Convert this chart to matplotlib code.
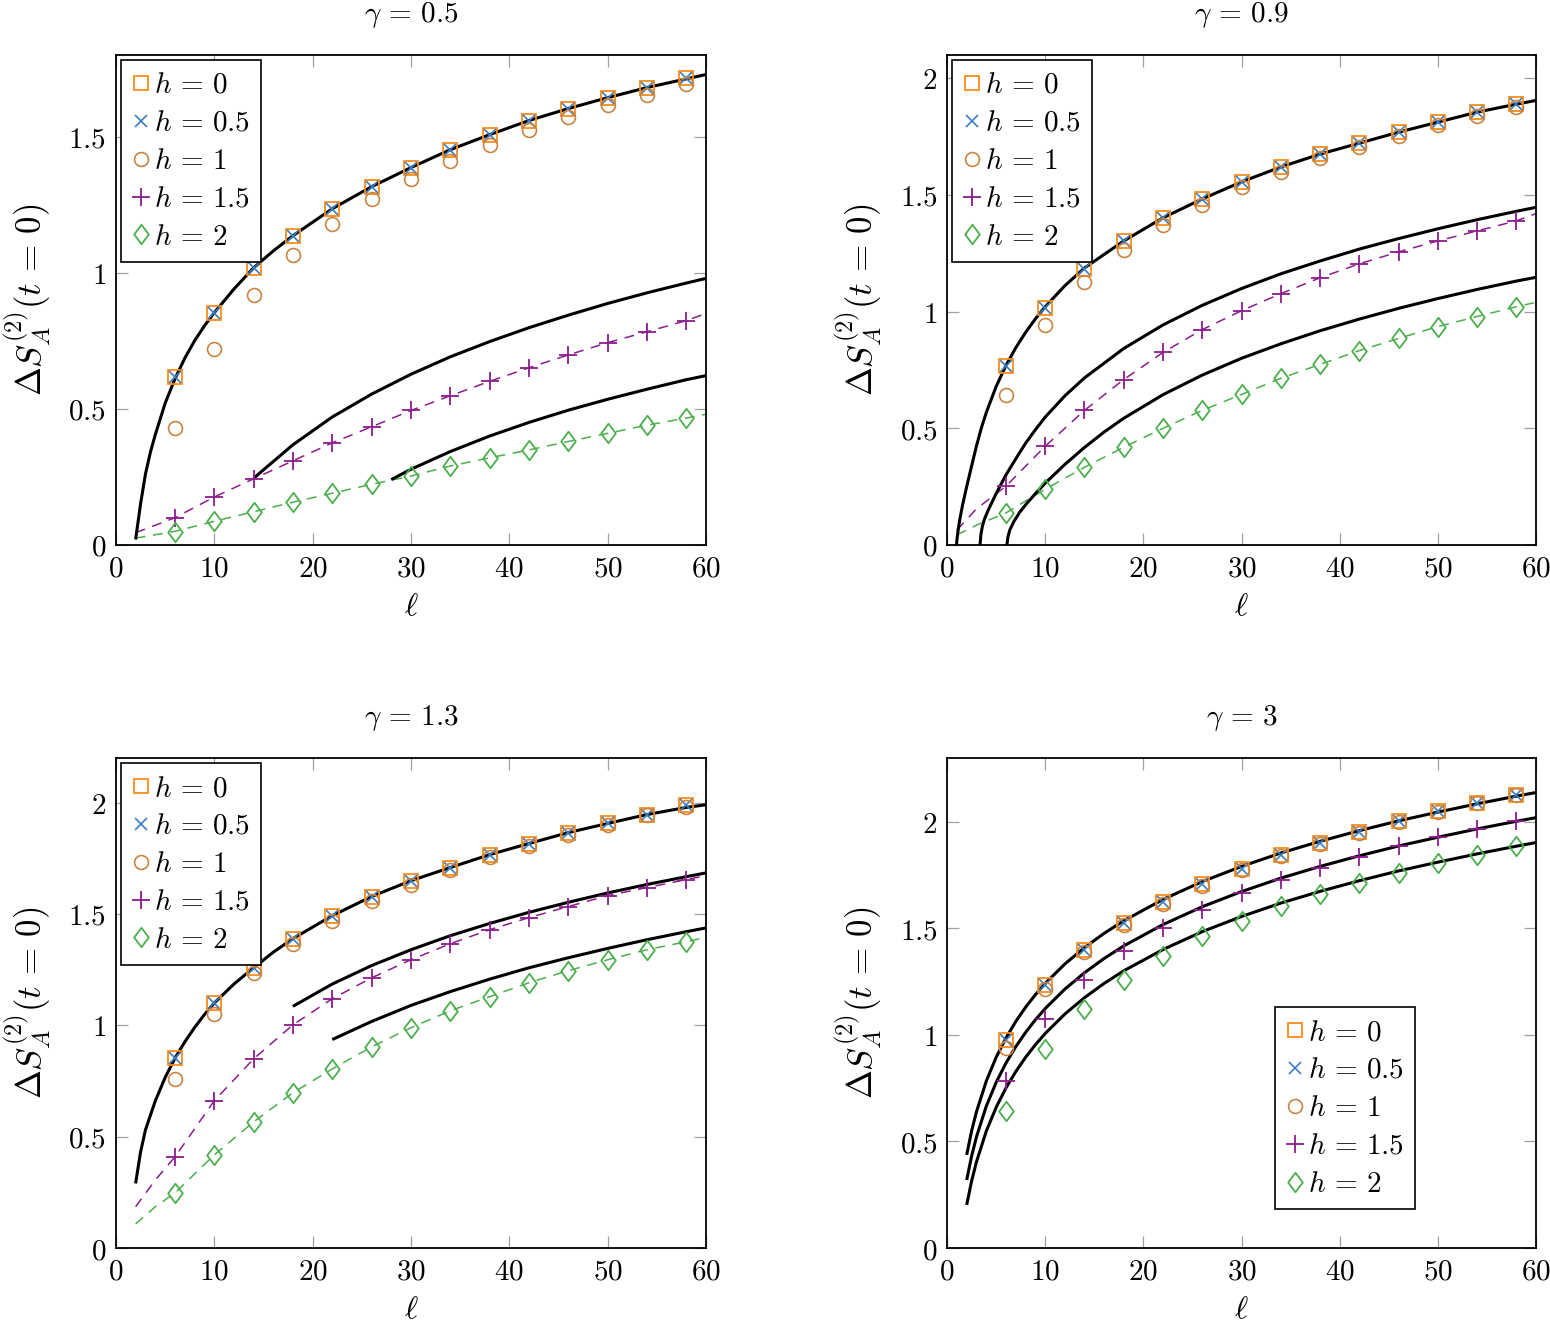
import matplotlib
matplotlib.use("Agg")
import matplotlib.pyplot as plt
from matplotlib.path import Path
from matplotlib.ticker import FuncFormatter, MultipleLocator

# -----------------------------
# Data
# -----------------------------
ell = [6, 10, 14, 18, 22, 26, 30, 34, 38, 42, 46, 50, 54, 58]

# gamma = 0.5
g05_h0 = [0.618, 0.853, 1.018, 1.136, 1.235, 1.316, 1.386, 1.452, 1.507, 1.559, 1.603, 1.643, 1.680, 1.717]
g05_h05 = [0.618, 0.853, 1.018, 1.136, 1.235, 1.316, 1.386, 1.452, 1.507, 1.559, 1.603, 1.643, 1.680, 1.717]
g05_h1 = [0.43, 0.72, 0.92, 1.066, 1.18, 1.27, 1.345, 1.41, 1.47, 1.525, 1.573, 1.617, 1.654, 1.695]
g05_h15 = [0.10, 0.176, 0.243, 0.309, 0.375, 0.434, 0.494, 0.548, 0.601, 0.651, 0.698, 0.743, 0.783, 0.824]
g05_h2 = [0.048, 0.088, 0.122, 0.157, 0.19, 0.223, 0.253, 0.29, 0.32, 0.349, 0.382, 0.412, 0.441, 0.467]
g05_fit_ell = [2, 6, 10, 14, 18, 22, 26, 30, 34, 38, 42, 46, 50, 54, 58, 60]
g05_fit15 = [0.045, 0.10, 0.176, 0.243, 0.309, 0.375, 0.434, 0.494, 0.548, 0.601, 0.651, 0.698, 0.743, 0.783, 0.824, 0.85]
g05_fit2 = [0.025, 0.05, 0.087, 0.122, 0.157, 0.19, 0.223, 0.253, 0.29, 0.32, 0.349, 0.38, 0.41, 0.44, 0.466, 0.48]
g05_cft1_ell = [2, 2.5, 3, 3.5, 4, 5, 6, 7, 8, 9, 10, 12, 14, 16, 18, 22, 26, 30, 34, 38, 42, 46, 50, 54, 58, 60]
g05_cft1 = [0.02, 0.15, 0.26, 0.34, 0.405, 0.52, 0.61, 0.686, 0.75, 0.805, 0.853, 0.94, 1.018, 1.08, 1.136,
            1.235, 1.316, 1.386, 1.452, 1.507, 1.559, 1.603, 1.643, 1.680, 1.712, 1.728]
g05_cft2_ell = [14, 18, 22, 26, 30, 34, 38, 42, 46, 50, 54, 58, 60]
g05_cft2 = [0.245, 0.368, 0.47, 0.554, 0.627, 0.691, 0.747, 0.798, 0.844, 0.887, 0.926, 0.962, 0.979]
g05_cft3_ell = [28, 30, 34, 38, 42, 46, 50, 54, 58, 60]
g05_cft3 = [0.24, 0.278, 0.343, 0.40, 0.45, 0.495, 0.535, 0.572, 0.607, 0.622]

# gamma = 0.9
g09_h0 = [0.769, 1.017, 1.184, 1.303, 1.402, 1.483, 1.556, 1.62, 1.675, 1.722, 1.769, 1.812, 1.855, 1.889]
g09_h05 = [0.769, 1.017, 1.184, 1.303, 1.402, 1.483, 1.556, 1.62, 1.675, 1.722, 1.769, 1.812, 1.855, 1.889]
g09_h1 = [0.641, 0.944, 1.128, 1.265, 1.372, 1.457, 1.534, 1.598, 1.658, 1.705, 1.752, 1.799, 1.838, 1.876]
g09_h15 = [0.252, 0.423, 0.577, 0.709, 0.825, 0.923, 1.004, 1.077, 1.145, 1.205, 1.256, 1.303, 1.346, 1.389]
g09_h2 = [0.137, 0.239, 0.333, 0.419, 0.5, 0.577, 0.645, 0.714, 0.774, 0.833, 0.885, 0.936, 0.979, 1.021]
g09_fit_ell = [1, 3, 6, 10, 14, 18, 22, 26, 30, 34, 38, 42, 46, 50, 54, 58, 60]
g09_fit15 = [0.064, 0.155, 0.252, 0.423, 0.577, 0.709, 0.825, 0.923, 1.004, 1.077, 1.145, 1.205, 1.256, 1.303, 1.346, 1.389, 1.42]
g09_fit2 = [0.043, 0.085, 0.137, 0.239, 0.333, 0.419, 0.5, 0.577, 0.645, 0.714, 0.774, 0.833, 0.885, 0.936, 0.979, 1.021, 1.04]
g09_cft1_ell = [0.97, 1.0, 1.1, 1.3, 1.6, 2, 2.5, 3, 3.5, 4, 5, 6, 7, 8, 9, 10, 12, 14, 18, 22, 26, 30, 34, 38, 42, 46, 50, 54, 58, 60]
g09_cft1 = [0.0, 0.02, 0.055, 0.11, 0.175, 0.25, 0.338, 0.425, 0.502, 0.568, 0.679, 0.769, 0.845, 0.911, 0.969, 1.021,
            1.111, 1.187, 1.303, 1.402, 1.483, 1.556, 1.62, 1.675, 1.722, 1.769, 1.812, 1.855, 1.889, 1.905]
g09_cft2_ell = [3.36, 3.45, 3.6, 3.8, 4.2, 5, 6, 7, 8, 9, 10, 12, 14, 18, 22, 26, 30, 34, 38, 42, 46, 50, 54, 58, 60]
g09_cft2 = [0.0, 0.045, 0.08, 0.11, 0.15, 0.22, 0.30, 0.369, 0.436, 0.494, 0.548, 0.639, 0.716, 0.842, 0.943,
            1.027, 1.099, 1.162, 1.217, 1.268, 1.313, 1.355, 1.394, 1.43, 1.447]
g09_cft3_ell = [6.1, 6.2, 6.4, 6.8, 7.4, 8, 9, 10, 12, 14, 16, 18, 22, 26, 30, 34, 38, 42, 46, 50, 54, 58, 60]
g09_cft3 = [0.0, 0.035, 0.065, 0.10, 0.14, 0.172, 0.22, 0.265, 0.345, 0.418, 0.484, 0.543, 0.644, 0.728, 0.80,
            0.862, 0.918, 0.968, 1.014, 1.056, 1.095, 1.131, 1.147]

# gamma = 1.3
g13_h0 = [0.854, 1.101, 1.258, 1.389, 1.492, 1.578, 1.649, 1.708, 1.766, 1.816, 1.865, 1.906, 1.946, 1.987]
g13_h05 = [0.854, 1.101, 1.258, 1.389, 1.492, 1.578, 1.649, 1.708, 1.766, 1.816, 1.865, 1.906, 1.946, 1.987]
g13_h1 = [0.76, 1.052, 1.236, 1.366, 1.47, 1.56, 1.631, 1.699, 1.757, 1.807, 1.856, 1.901, 1.942, 1.982]
g13_h15 = [0.409, 0.661, 0.849, 1.002, 1.119, 1.213, 1.294, 1.366, 1.429, 1.483, 1.533, 1.582, 1.618, 1.654]
g13_h2 = [0.247, 0.418, 0.566, 0.697, 0.804, 0.903, 0.989, 1.065, 1.128, 1.191, 1.245, 1.294, 1.339, 1.375]
g13_fit_ell = [2, 4, 6, 10, 14, 18, 22, 26, 30, 34, 38, 42, 46, 50, 54, 58, 60]
g13_fit15 = [0.185, 0.305, 0.409, 0.661, 0.849, 1.002, 1.119, 1.213, 1.294, 1.366, 1.429, 1.483, 1.533, 1.582, 1.618, 1.654, 1.672]
g13_fit2 = [0.108, 0.185, 0.247, 0.418, 0.566, 0.697, 0.804, 0.903, 0.989, 1.065, 1.128, 1.191, 1.245, 1.294, 1.339, 1.375, 1.395]
g13_cft1_ell = [2, 2.5, 3, 4, 5, 6, 7, 8, 9, 10, 12, 14, 16, 18, 22, 26, 30, 34, 38, 42, 46, 50, 54, 58, 60]
g13_cft1 = [0.29, 0.43, 0.53, 0.66, 0.765, 0.852, 0.925, 0.99, 1.048, 1.10, 1.185, 1.258, 1.328, 1.389,
            1.492, 1.578, 1.649, 1.708, 1.766, 1.816, 1.865, 1.906, 1.946, 1.978, 1.99]
g13_cft2_ell = [18, 22, 26, 30, 34, 38, 42, 46, 50, 54, 58, 60]
g13_cft2 = [1.085, 1.185, 1.268, 1.339, 1.402, 1.457, 1.507, 1.552, 1.594, 1.632, 1.667, 1.684]
g13_cft3_ell = [22, 26, 30, 34, 38, 42, 46, 50, 54, 58, 60]
g13_cft3 = [0.936, 1.017, 1.089, 1.151, 1.207, 1.258, 1.303, 1.345, 1.384, 1.420, 1.437]

# gamma = 3
g3_h0 = [0.977, 1.235, 1.399, 1.526, 1.624, 1.709, 1.779, 1.845, 1.901, 1.953, 2.005, 2.052, 2.089, 2.127]
g3_h05 = [0.977, 1.235, 1.399, 1.526, 1.624, 1.709, 1.779, 1.845, 1.901, 1.953, 2.005, 2.052, 2.089, 2.127]
g3_h1 = [0.939, 1.216, 1.39, 1.516, 1.615, 1.70, 1.775, 1.84, 1.897, 1.948, 2.0, 2.047, 2.089, 2.127]
g3_h15 = [0.784, 1.075, 1.26, 1.394, 1.5, 1.588, 1.665, 1.728, 1.784, 1.836, 1.887, 1.93, 1.967, 2.005]
g3_h2 = [0.643, 0.932, 1.123, 1.26, 1.371, 1.463, 1.537, 1.606, 1.662, 1.714, 1.761, 1.808, 1.845, 1.887]
g3_cft_ell = [2, 2.5, 3, 4, 5, 6, 7, 8, 9, 10, 12, 14, 16, 18, 22, 26, 30, 34, 38, 42, 46, 50, 54, 58, 60]
g3_cft1 = [0.437, 0.549, 0.64, 0.784, 0.895, 0.986, 1.063, 1.13, 1.189, 1.242, 1.333, 1.41, 1.477, 1.536,
           1.636, 1.72, 1.791, 1.854, 1.909, 1.959, 2.005, 2.046, 2.085, 2.121, 2.138]
g3_cft2 = [0.319, 0.431, 0.522, 0.666, 0.777, 0.868, 0.945, 1.012, 1.071, 1.124, 1.215, 1.292, 1.359, 1.418,
           1.518, 1.602, 1.673, 1.736, 1.791, 1.841, 1.887, 1.928, 1.967, 2.003, 2.02]
g3_cft3 = [0.202, 0.314, 0.405, 0.549, 0.66, 0.751, 0.828, 0.895, 0.954, 1.007, 1.098, 1.175, 1.242, 1.301,
           1.401, 1.485, 1.556, 1.619, 1.674, 1.724, 1.77, 1.811, 1.85, 1.886, 1.903]

h_labels = ["0", "0.5", "1", "1.5", "2"]

# -----------------------------
# Styles
# -----------------------------
plt.rcParams["mathtext.fontset"] = "cm"
FS = 21
EQ = r"\,=\,"   # a bit of extra room around "=" as in the LaTeX original

C_ORANGE = "#ff8c1a"
C_BLUE = "#3a7dc2"
C_BROWN = "#c98442"
C_PURPLE = "#8b1c8b"
C_GREEN = "#4cae4c"

diamond = Path([(0, -1), (0.75, 0), (0, 1), (-0.75, 0), (0, -1)],
               [Path.MOVETO, Path.LINETO, Path.LINETO, Path.LINETO, Path.CLOSEPOLY])

marker_styles = [
    dict(marker="s", ms=10, mfc="none", mec=C_ORANGE, mew=1.3),
    dict(marker="x", ms=9, mec=C_BLUE, mew=1.2),
    dict(marker="o", ms=10, mfc="none", mec=C_BROWN, mew=1.2),
    dict(marker="+", ms=13, mec=C_PURPLE, mew=1.3),
    dict(marker=diamond, ms=14, mfc="none", mec=C_GREEN, mew=1.3),
]

panels = [
    dict(gamma="0.5", ylim=1.8, rect=[0.0748, 0.5884, 0.3806, 0.3701],
         series=[g05_h0, g05_h05, g05_h1, g05_h15, g05_h2],
         fits=(g05_fit_ell, g05_fit15, g05_fit2),
         cft=[(g05_cft1_ell, g05_cft1), (g05_cft2_ell, g05_cft2), (g05_cft3_ell, g05_cft3)],
         leg=dict(loc="upper left", bbox_to_anchor=(0.0, 1.0))),
    dict(gamma="0.9", ylim=2.1, rect=[0.611, 0.5884, 0.380, 0.3701],
         series=[g09_h0, g09_h05, g09_h1, g09_h15, g09_h2],
         fits=(g09_fit_ell, g09_fit15, g09_fit2),
         cft=[(g09_cft1_ell, g09_cft1), (g09_cft2_ell, g09_cft2), (g09_cft3_ell, g09_cft3)],
         leg=dict(loc="upper left", bbox_to_anchor=(0.0, 1.0))),
    dict(gamma="1.3", ylim=2.2, rect=[0.0748, 0.0574, 0.3806, 0.3701],
         series=[g13_h0, g13_h05, g13_h1, g13_h15, g13_h2],
         fits=(g13_fit_ell, g13_fit15, g13_fit2),
         cft=[(g13_cft1_ell, g13_cft1), (g13_cft2_ell, g13_cft2), (g13_cft3_ell, g13_cft3)],
         leg=dict(loc="upper left", bbox_to_anchor=(0.0, 1.0))),
    dict(gamma="3", ylim=2.3, rect=[0.611, 0.0574, 0.380, 0.3701],
         series=[g3_h0, g3_h05, g3_h1, g3_h15, g3_h2],
         fits=None,
         cft=[(g3_cft_ell, g3_cft1), (g3_cft_ell, g3_cft2), (g3_cft_ell, g3_cft3)],
         leg=dict(loc="upper left", bbox_to_anchor=(0.548, 0.502))),
]

fmt = FuncFormatter(lambda v, pos: "$%g$" % v)

# -----------------------------
# Plot
# -----------------------------
fig = plt.figure(figsize=(15.5, 13.24), dpi=100)

for p in panels:
    ax = fig.add_axes(p["rect"])

    if p["fits"] is not None:
        fx, f15, f2 = p["fits"]
        ax.plot(fx, f15, color=C_PURPLE, lw=1.1, dashes=(6.5, 5))
        ax.plot(fx, f2, color=C_GREEN, lw=1.1, dashes=(6.5, 5))

    for cx, cy in p["cft"]:
        ax.plot(cx, cy, color="black", lw=2.2, solid_capstyle="butt", solid_joinstyle="round")

    for vals, st, lab in zip(p["series"], marker_styles, h_labels):
        ax.plot(ell, vals, ls="none", label=r"$h%s%s$" % (EQ, lab), **st)

    ax.set_xlim(0, 60)
    ax.set_ylim(0, p["ylim"])
    ax.xaxis.set_major_locator(MultipleLocator(10))
    ax.yaxis.set_major_locator(MultipleLocator(0.5))
    ax.xaxis.set_major_formatter(fmt)
    ax.yaxis.set_major_formatter(fmt)
    ax.tick_params(direction="in", top=True, right=True, length=8.5, width=0.9,
                   color="#a0a0a0", labelsize=FS, pad=7)
    for sp in ax.spines.values():
        sp.set_linewidth(1.3)

    ax.set_title(r"$\gamma%s%s$" % (EQ, p["gamma"]), fontsize=FS, pad=24)
    ax.set_xlabel(r"$\ell$", fontsize=FS + 2, labelpad=6)
    ax.set_ylabel(r"$\Delta S_A^{(2)}(t%s0)$" % EQ, fontsize=FS + 4, labelpad=11)

    leg = ax.legend(fontsize=FS, frameon=True, fancybox=False, framealpha=1,
                    edgecolor="black", handlelength=0.6, handletextpad=0.15,
                    borderpad=0.38, labelspacing=0.34, borderaxespad=0.17, **p["leg"])
    leg.get_frame().set_linewidth(1.2)

fig.savefig("out.png", dpi=100)
